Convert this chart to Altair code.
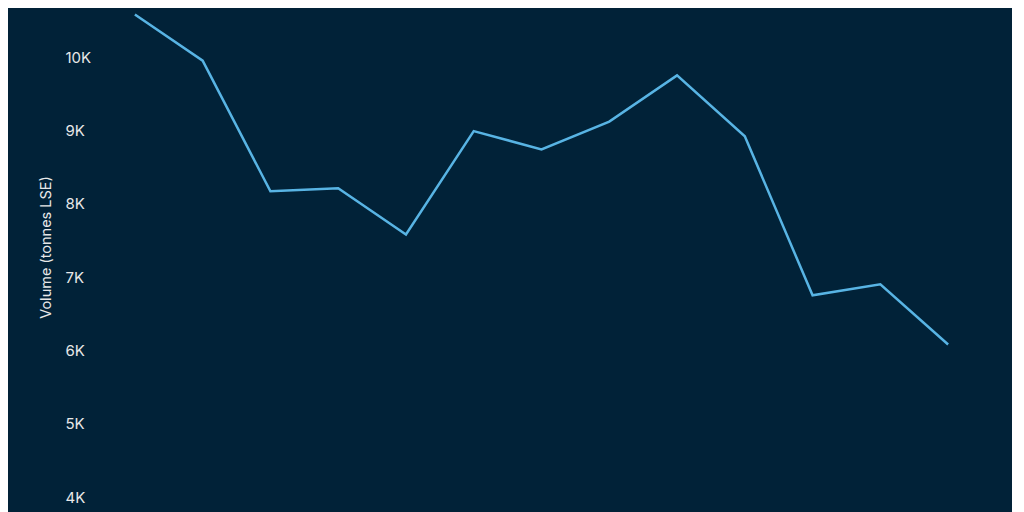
import altair as alt
import pandas as pd

years = [str(y) for y in range(2010, 2023)]
volume = [10580, 9950, 8170, 8210, 7580, 8990, 8740, 9120, 9750, 8920, 6750, 6900, 6080]

df = pd.DataFrame({"year": years, "volume": volume})

BG = "#012238"
PAGE_CSS = "html,body{background:" + BG + " !important;}"

chart = (
    alt.Chart(df)
    .mark_line(color="#58b4e4", strokeWidth=2.5)
    .encode(
        x=alt.X("year:O", axis=None, scale=alt.Scale(type="point", padding=0.5)),
        y=alt.Y(
            "volume:Q",
            scale=alt.Scale(domain=[3891, 10587], nice=False, zero=False),
            axis=alt.Axis(
                title="Volume (tonnes LSE)",
                values=[4000, 5000, 6000, 7000, 8000, 9000, 10000],
                format="~s",
                labelExpr="replace(datum.label, 'k', 'K')",
                grid=False,
                domain=False,
                ticks=False,
                labelAlign="left",
                labelPadding=36,
                labelColor="#e8e8e8",
                labelFont="Inter",
                labelFontSize=15,
                titleColor="#e8e8e8",
                titleFont="Inter",
                titleFontSize=14.5,
                titleFontWeight="normal",
                titleAngle=-90,
                titleBaseline="middle",
                titleX=-55,
                titleY=233,
            ),
        ),
    )
    .properties(
        width=881,
        height=491,
        background=BG,
        padding={"left": 93, "top": 6, "right": 30, "bottom": 12},
        autosize=alt.AutoSizeParams(type="none"),
        usermeta={"embedOptions": {"defaultStyle": PAGE_CSS}},
    )
    .configure_view(stroke=None)
)

chart.save("out.html", embed_options={"renderer": "svg", "actions": False})
